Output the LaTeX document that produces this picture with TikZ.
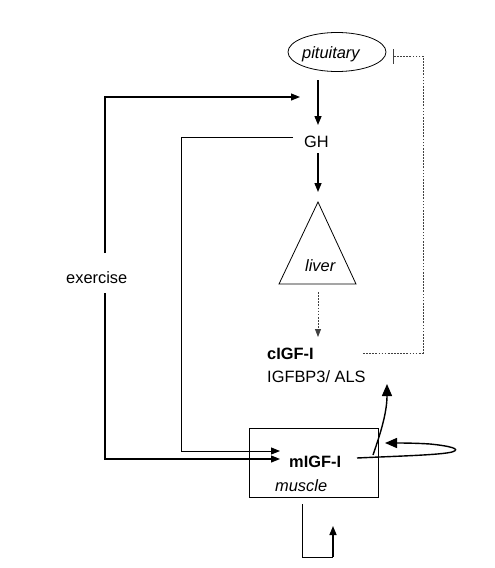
\documentclass[tikz,border=0pt]{standalone}
\usepackage{fontspec}
\setmainfont{Liberation Sans}
\usetikzlibrary{arrows.meta,shapes.geometric}
\begin{document}
\begin{tikzpicture}[x=1pt,y=-1pt,
  txt/.style={anchor=base west,inner sep=0pt,font=\fontsize{16.4}{19}\selectfont},
  arr/.style={line width=1.4pt,-{Triangle[length=9pt,width=7pt]}},
  bigarr/.style={line width=1.4pt,-{Triangle[length=12pt,width=10pt]}},
  dsh/.style={line width=0.8pt,dash pattern=on 1.7pt off 1.4pt,black!75},
  outline/.style={draw,line width=0.8pt},
  feed/.style={line width=1.1pt},
]
\useasboundingbox (0,0) rectangle (495,568);

% nodes
\node[outline,ellipse,minimum width=98pt,minimum height=39pt,inner sep=0pt] (pit) at (337,52) {};
\node[txt] (pittext) at (302,58) {\itshape pituitary};
\node[txt] (GH) at (304,147) {GH};
\draw[outline] (318,202) coordinate (livtop) -- (356,284) coordinate (livr) -- (279,284) coordinate (livl) -- cycle;
\node[txt] (liver) at (305,271) {\itshape liver};
\node[txt] (cigf) at (267,359) {\bfseries cIGF-I};
\node[txt] (bp) at (267,382) {IGFBP3/ ALS};
\node[outline,minimum width=129pt,minimum height=69pt,inner sep=0pt] (box) at (313.5,462.5) {};
\node[txt] (migf) at (289,467) {\bfseries mIGF-I};
\node[txt] (muscle) at (275,491) {\itshape muscle};
\node[txt] (ex) at (66,283) {exercise};

% coordinates for free ends
\coordinate (pitout) at (318,80);
\coordinate (GHin) at (318,125);
\coordinate (GHout) at (318,153);
\coordinate (livin) at (318,192);
\coordinate (livout) at (318,292);
\coordinate (cigfin) at (318,337);
\coordinate (extip) at (300,97);
\coordinate (exup) at (105,253);
\coordinate (exdown) at (105,293);
\coordinate (mtipA) at (280,451);
\coordinate (mtipB) at (280,459);
\coordinate (GHleft) at (293,137);
\coordinate (cigfr) at (363,353);
\coordinate (inhib) at (393,56);
\coordinate (botstart) at (302,504);
\coordinate (botcorner) at (333,557);
\coordinate (bottip) at (333,526);

% main cascade
\draw[arr] (pitout) -- (GHin);
\draw[arr] (GHout) -- (livin);
\draw[dsh,-{Triangle[length=8pt,width=6pt]}] (livout) -- (cigfin);

% negative feedback
\draw[dsh,-{Bar[width=15pt,line width=1pt]}] (cigfr) -- (423,353) -- (423,56) -- (inhib);

% exercise
\draw[feed,-{Triangle[length=9pt,width=7pt]}] (exup) -- (105,97) -- (extip);
\draw[feed,-{Triangle[length=9pt,width=7pt]}] (exdown) -- (105,459) -- (mtipB);

% GH to muscle
\draw[line width=0.9pt,-{Triangle[length=9pt,width=7pt]}] (GHleft) -- (181,137) -- (181,451) -- (mtipA);

% muscle to circulation
\draw[bigarr] (373,455) .. controls (381,432) and (387,412) .. (387,384);

% autocrine loop
\draw[bigarr] (357,458) .. controls (400,456) and (440,455) .. (452,452)
  .. controls (462,449) and (450,446) .. (430,444)
  .. controls (415,443) and (400,443) .. (385,443);

% bottom loop
\draw[line width=0.8pt] (botstart) -- (botstart |- botcorner) -- (botcorner);
\draw[line width=1.5pt,-{Triangle[length=9pt,width=7pt]}] (botcorner) -- (bottip);
\end{tikzpicture}
\end{document}
